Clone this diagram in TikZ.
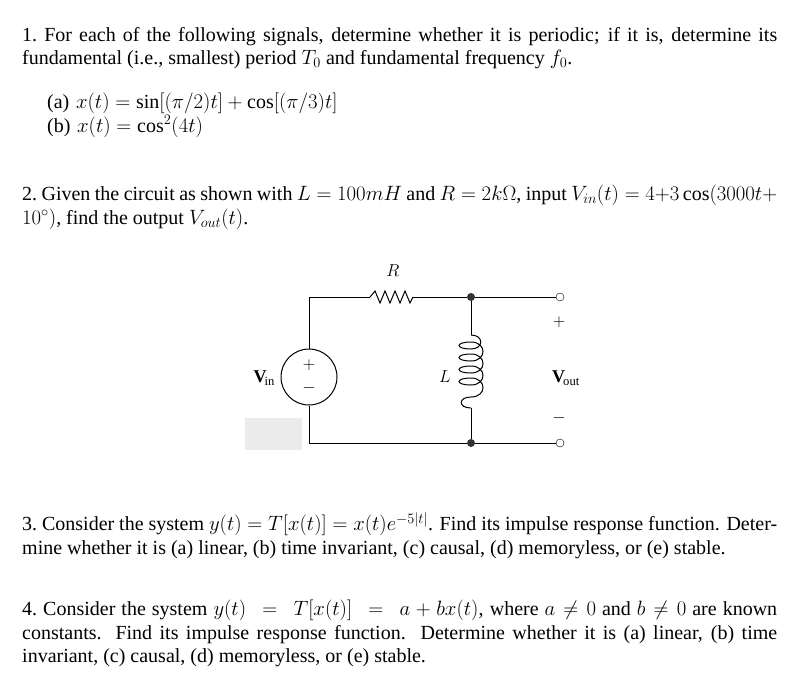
\documentclass[tikz,border=0pt]{standalone}
\usepackage{fontspec}
\setmainfont{Liberation Serif}
\usepackage{amsmath}
\newcommand{\hang}{\leavevmode\hangindent=25pt\hangafter=1 }
\begin{document}
\begin{tikzpicture}[x=1pt,y=-1pt,
 txt/.style={anchor=north west,inner sep=0pt,text width=755pt,align=justify,font=\fontsize{20}{23.5}\selectfont},
 w/.style={line width=1pt},
 dot/.style={circle,fill=black!80,inner sep=0pt,minimum size=8pt},
 term/.style={circle,draw,fill=white,inner sep=0pt,minimum size=8pt},
 lbl/.style={font=\fontsize{18}{18}\selectfont},
 pm/.style={font=\fontsize{16}{16}\selectfont}]
\useasboundingbox (0,0) rectangle (801,697);
\node[txt] (q1) at (22,27) {\hang 1.\ For each of the following signals, determine whether it is periodic; if it is, determine its\linebreak fundamental (i.e., smallest) period $T_0$ and fundamental frequency $f_0$.};
\node[txt,text width=500pt,align=left] (q1a) at (47,93) {(a) $x(t)=\sin[(\pi/2)t]+\cos[(\pi/3)t]$\\(b) $x(t)=\cos^2(4t)$};
\node[txt] (q2) at (22,185) {\hang 2.\ Given the circuit as shown with $L=100mH$ and $R=2k\Omega$, input $V_{in}(t)=4{+}3\cos(3000t{+}$\linebreak $10^\circ)$, find the output $V_{out}(t)$.};
\node[txt] (q3) at (22,512) {\hang 3.\ Consider the system $y(t)=T[x(t)]=x(t)e^{-5|t|}$. Find its impulse response function. Deter-\linebreak mine whether it is (a) linear, (b) time invariant, (c) causal, (d) memoryless, or (e) stable.};
\node[txt] (q4) at (22,600) {\hang 4.\ Consider the system $y(t)\;=\;T[x(t)]\;=\;a+bx(t)$, where $a\neq0$ and $b\neq0$ are known\linebreak constants. Find its impulse response function.\ \ Determine whether it is (a) linear, (b) time\linebreak invariant, (c) causal, (d) memoryless, or (e) stable.};
% circuit
\fill[black!8] (245,418) rectangle (302,450);
\node[circle,draw,w,minimum size=56pt,inner sep=0pt] (src) at (309,377) {};
\node[pm] (sp) at (309,365) {$+$};
\node[pm] (sm) at (309,388) {$-$};
\coordinate (tl) at (309,297);
\coordinate (bl) at (309,443);
\coordinate (r1) at (370,297);
\coordinate (r2) at (413,297);
\node[dot] (nt) at (471,297) {};
\node[dot] (nb) at (471,443) {};
\coordinate (l1) at (471,335);
\coordinate (l2) at (471,408);
\node[term] (ot) at (560,297) {};
\node[term] (ob) at (560,443) {};
\draw[w] (src.north) -- (tl) -- (r1);
\draw[w] (r1) -- ++(5,-6) -- ++(5,12) -- ++(5,-12) -- ++(5,12) -- ++(5,-12) -- ++(5,12) -- ++(5,-12) -- ++(5,12) -- (r2);
\draw[w] (r2) -- (nt) -- (ot);
\draw[w] (src.south) -- (bl) -- (nb) -- (ob);
\draw[w] (nt) -- (l1);
\draw[w] (l1) .. controls (484,335) and (484,349) .. (471,349)
  .. controls (455,349) and (455,342) .. (471,342)
  .. controls (487,342) and (487,361) .. (471,361)
  .. controls (455,361) and (455,354) .. (471,354)
  .. controls (487,354) and (487,373) .. (471,373)
  .. controls (455,373) and (455,366) .. (471,366)
  .. controls (487,366) and (487,385) .. (471,385)
  .. controls (455,385) and (455,378) .. (471,378)
  .. controls (487,378) and (487,397) .. (471,397)
  .. controls (458,397) and (458,408) .. (l2);
\draw[w] (l2) -- (nb);
\node[lbl] (lr) at (393,271) {$R$};
\node[lbl] (ll) at (445,377) {$L$};
\node[lbl,anchor=east,inner sep=0pt] (lvin) at (275,378) {$\mathbf{V}_{\!\mathrm{in}}$};
\node[lbl,anchor=west,inner sep=0pt] (lvout) at (552,378) {$\mathbf{V}_{\!\mathrm{out}}$};
\node[pm] (lp) at (559,322) {$+$};
\node[pm] (lm) at (559,418) {$-$};
\end{tikzpicture}
\end{document}
